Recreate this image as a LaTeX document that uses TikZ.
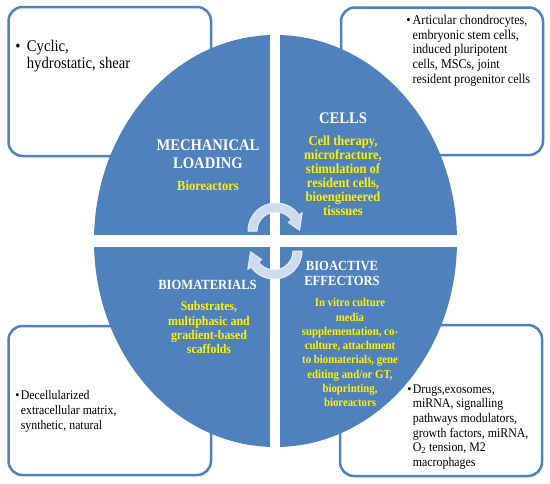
\documentclass[tikz,border=0pt]{standalone}
\usepackage{fontspec}
\setmainfont[FakeStretch=0.9]{Liberation Serif}
\definecolor{qblue}{RGB}{79,129,189}
\definecolor{arrfill}{RGB}{205,219,237}
\definecolor{arrline}{RGB}{232,238,247}
\newcommand{\setfs}[2]{\fontsize{#1}{#2}\selectfont}
\newcommand{\mycl}[1]{\begin{tabular}[t]{@{}c@{}}#1\end{tabular}}
\newcommand{\myll}[1]{\begin{tabular}[t]{@{}l@{}}#1\end{tabular}}
\newcommand{\bul}[1]{\llap{\textbullet\hspace{#1}}}
\begin{document}
\begin{tikzpicture}[x=1pt,y=-1pt,
  box/.style={draw=qblue, line width=2.5pt, fill=white, rounded corners=14pt},
  txt/.style={inner sep=0pt, anchor=base},
  ltxt/.style={inner sep=0pt, anchor=base west, text=black},
  head/.style={txt, text=white, font=\bfseries},
  yel/.style={txt, text=yellow, font=\bfseries},
  arr/.style={fill=arrfill, draw=arrline, line width=1pt, line join=round}]
\useasboundingbox (0,0) rectangle (550,483);
\fill[white] (0,0) rectangle (550,483);
% outer boxes
\draw[box] (8.5,7) rectangle (211,156);
\draw[box] (341,7.5) rectangle (543,155);
\draw[box] (8.5,326) rectangle (211,475);
\draw[box] (340,325) rectangle (542,476);
% central ellipse with cross
\fill[qblue] (275.5,241) ellipse [x radius=181.5, y radius=206];
\fill[white] (270,30) rectangle (280,452);
\fill[white] (88,235) rectangle (464,246.7);
% circular arrows
\begin{scope}[shift={(276,231)}]
  \path[arr] (180:28) arc[start angle=180, end angle=325, radius=28]
    -- (325:32) -- (358:23.5) -- (325:15) -- (325:19)
    arc[start angle=325, end angle=180, radius=19] -- cycle;
\end{scope}
\begin{scope}[shift={(274,251)}]
  \path[arr] (0:28) arc[start angle=0, end angle=145, radius=28]
    -- (145:32) -- (178:23.5) -- (145:15) -- (145:19)
    arc[start angle=145, end angle=0, radius=19] -- cycle;
\end{scope}
% quadrant texts
\node[head] (mechT) at (208,150.7) {\setfs{16.2}{17.5}\mycl{MECHANICAL\\LOADING}};
\node[yel] (mechY) at (208,190.5) {\setfs{13.9}{14}\mycl{Bioreactors}};
\node[head] (cellsT) at (343,123) {\setfs{16.2}{17.5}\mycl{CELLS}};
\node[yel] (cellsY) at (343,145.7) {\setfs{13.9}{14}\mycl{Cell therapy,\\microfracture,\\stimulation of\\resident cells,\\bioengineered\\tisssues}};
\node[head] (bioT) at (207.5,289.3) {\setfs{14}{15.7}\mycl{BIOMATERIALS}};
\node[yel] (bioY) at (209,310.7) {\setfs{13.2}{14.3}\mycl{Substrates,\\multiphasic and\\gradient-based\\scaffolds}};
\node[head] (effT) at (342,270) {\setfs{14}{15.7}\mycl{BIOACTIVE\\EFFECTORS}};
\node[yel] (effY) at (350,306.7) {\setfs{12}{14.3}\mycl{In vitro culture\\media\\supplementation, co-\\culture, attachment\\to biomaterials, gene\\editing and/or GT,\\bioprinting,\\bioreactors}};
% box texts
\node[ltxt] (tlText) at (26.7,51.7) {\setfs{16.3}{16.6}\myll{\bul{6.5pt}Cyclic,\\hydrostatic, shear}};
\node[ltxt] (trText) at (412.5,24.3) {\setfs{13.5}{14.7}\myll{\bul{2pt}Articular chondrocytes,\\embryonic stem cells,\\induced pluripotent\\cells, MSCs, joint\\resident progenitor cells}};
\node[ltxt] (blText) at (20.7,399.3) {\setfs{13.1}{15.3}\myll{\bul{1.3pt}Decellularized\\extracellular matrix,\\synthetic, natural}};
\node[ltxt] (brText) at (412.7,393.3) {\setfs{13.2}{14.6}\myll{\bul{1.3pt}Drugs,exosomes,\\miRNA, signalling\\pathways modulators,\\growth factors, miRNA,\\O\textsubscript{2} tension, M2\\macrophages}};
\end{tikzpicture}
\end{document}
